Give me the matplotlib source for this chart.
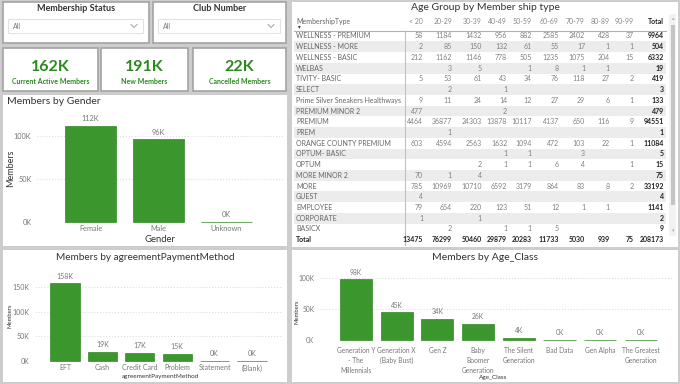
import matplotlib
matplotlib.use('Agg')
import matplotlib.pyplot as plt
from matplotlib.patches import Rectangle
from matplotlib.ticker import FuncFormatter

plt.rcParams['font.family'] = ['Lato', 'DejaVu Sans']

# ── Data ──────────────────────────────────────────────────────────────
kpi_values = ['162K', '191K', '22K']
kpi_labels = ['Current Active Members', 'New Members', 'Cancelled Members']

gender_cats = ['Female', 'Male', 'Unknown']
gender_vals = [112000, 96000, 400]

pay_cats = ['EFT', 'Cash', 'Credit Card', 'Problem', 'Statement', '(Blank)']
pay_vals = [158000, 19000, 17000, 15000, 150, 100]

age_cats = ['Generation Y\n- The\nMillennials', 'Generation X\n(Baby Bust)', 'Gen Z',
            'Baby\nBoomer\nGeneration', 'The Silent\nGeneration', 'Bad Data',
            'Gen Alpha', 'The Greatest\nGeneration']
age_vals = [98000, 45000, 34000, 26000, 4000, 200, 150, 150]

age_groups = ['< 20', '20-29', '30-39', '40-49', '50-59', '60-69', '70-79', '80-89', '90-99']
mtypes = ['WELLNESS - PREMIUM', 'WELLNESS - MORE', 'WELLNESS - BASIC', 'WELBAS', 'TIVITY- BASIC',
          'SELECT', 'Prime Silver Sneakers Healthways', 'PREMIUM MINOR 2', 'PREMIUM', 'PREM',
          'ORANGE COUNTY PREMIUM', 'OPTUM- BASIC', 'OPTUM', 'MORE MINOR 2', 'MORE', 'GUEST',
          'EMPLOYEE', 'CORPORATE', 'BASICX']
N = None
mtype_counts = [
    [58, 1184, 1432, 956, 882, 2585, 2402, 428, 37],
    [2, 85, 150, 132, 61, 55, 17, 1, 1],
    [212, 1162, 1146, 778, 505, 1235, 1075, 204, 15],
    [N, 3, 5, N, 1, 8, 1, 1, N],
    [5, 53, 61, 43, 34, 76, 118, 27, 2],
    [N, 2, N, 1, N, N, N, N, N],
    [9, 11, 24, 14, 12, 27, 29, 6, 1],
    [477, N, N, 2, N, N, N, N, N],
    [4464, 36877, 24303, 13878, 10117, 4137, 650, 116, 9],
    [N, 1, N, N, N, N, N, N, N],
    [603, 4594, 2563, 1632, 1094, 472, 103, 22, 1],
    [N, N, N, 1, 1, N, 3, N, N],
    [N, N, 2, 1, 1, 6, 4, N, 1],
    [70, 1, 4, N, N, N, N, N, N],
    [785, 10969, 10710, 6592, 3179, 864, 83, 8, 2],
    [4, N, N, N, N, N, N, N, N],
    [79, 654, 220, 123, 51, 12, 1, 1, N],
    [1, N, 1, N, N, N, N, N, N],
    [N, 2, N, 1, 1, 5, N, N, N],
]
mtype_totals = [9964, 504, 6332, 19, 419, 3, 133, 479, 94551, 1, 11084, 5, 15, 75, 33192, 4, 1141, 2, 9]
group_totals = [13475, 76299, 50460, 29879, 20283, 11733, 5030, 939, 75]
grand_total = 208173

# ── Style ─────────────────────────────────────────────────────────────
W, H = 680, 384
BG = '#cdcdcd'
GREEN = '#3b962d'
KPI_GREEN = '#2a8a1e'
GRAY_TXT = '#777777'
DARK_TXT = '#333333'

fig = plt.figure(figsize=(W / 100, H / 100), dpi=100, facecolor=BG)
bg = fig.add_axes([0, 0, 1, 1])
bg.set_xlim(0, W); bg.set_ylim(H, 0); bg.axis('off')


def panel(x0, y0, x1, y1, border=None):
    bg.add_patch(Rectangle((x0, y0), x1 - x0, y1 - y0, facecolor='white',
                           edgecolor=border if border else 'none', lw=1.2))


def px_axes(x0, y0, x1, y1):
    return fig.add_axes([x0 / W, 1 - y1 / H, (x1 - x0) / W, (y1 - y0) / H], facecolor='none')


kfmt = FuncFormatter(lambda v, p: f'{v / 1000:.0f}K')

# ── Slicers ───────────────────────────────────────────────────────────
for (x0, x1, title) in [(3, 149, 'Membership Status'), (153, 286, 'Club Number')]:
    panel(x0, 2, x1, 43, border='#a3a3a3')
    bg.text((x0 + x1) / 2, 8.5, title, ha='center', va='center', fontsize=6.5,
            fontweight='bold', color=DARK_TXT)
    bg.add_patch(Rectangle((x0 + 5, 19), x1 - x0 - 11, 14, facecolor='white',
                           edgecolor='#e2e2e2', lw=0.8))
    bg.text(x0 + 10, 26.5, 'All', ha='left', va='center', fontsize=5, color='#777777')
    cx = x1 - 15
    bg.plot([cx - 3, cx, cx + 3], [24.5, 27.5, 24.5], color='#a0a0a0', lw=0.7)

# ── KPI cards ─────────────────────────────────────────────────────────
for (x0, x1), val, lab in zip([(3, 98), (101, 188), (193, 286)], kpi_values, kpi_labels):
    panel(x0, 48, x1, 91, border='#a3a3a3')
    bg.text((x0 + x1) / 2, 67, val, ha='center', va='center', fontsize=11.5,
            fontweight='bold', color=KPI_GREEN)
    bg.text((x0 + x1) / 2, 82, lab, ha='center', va='center', fontsize=5,
            fontweight='bold', color=KPI_GREEN)

# ── Chart panels ──────────────────────────────────────────────────────
panel(3, 95, 287, 246)
panel(3, 250, 287, 382)
panel(292, 250, 678, 382)
panel(292, 2, 678, 247)


def bar_chart(ax, cats, vals, x_first, step, x0, x1, ymax, yticks, width, tick_fs, label_fs,
              xpad=3, lsp=1.25):
    idx = range(len(cats))
    bars = ax.bar(idx, vals, width=width, color=GREEN, edgecolor='#2f8a24', lw=0.5, zorder=3)
    for b in bars:
        b.set_clip_on(False)
    ax.set_xlim(-(x_first - x0) / step, -(x_first - x0) / step + (x1 - x0) / step)
    ax.set_ylim(0, ymax)
    ax.set_yticks(yticks)
    ax.yaxis.set_major_formatter(kfmt)
    ax.set_xticks(list(idx))
    ax.set_xticklabels(cats, fontsize=tick_fs, color=GRAY_TXT, linespacing=lsp)
    ax.tick_params(axis='y', labelsize=tick_fs, labelcolor=GRAY_TXT, length=0, pad=4)
    ax.tick_params(axis='x', length=0, pad=xpad)
    ax.grid(axis='y', color='#dddddd', ls=':', lw=0.8, zorder=0)
    for s in ax.spines.values():
        s.set_visible(False)
    for i, v in zip(idx, vals):
        ax.annotate(f'{v / 1000:.0f}K', (i, v), xytext=(0, 2.5), textcoords='offset points',
                    ha='center', va='bottom', fontsize=label_fs, color=GRAY_TXT)


# Members by Gender
bg.text(7, 102, 'Members by Gender', ha='left', va='center', fontsize=7.5, color=DARK_TXT)
ax1 = px_axes(37, 114.5, 283, 222)
bar_chart(ax1, gender_cats, gender_vals, 90.5, 68, 37, 283, 125000, [0, 50000, 100000],
          0.75, 5.3, 5.3, xpad=2)
bg.text(11, 168, 'Members', rotation=90, ha='center', va='center', fontsize=6.5, color=DARK_TXT)
bg.text(160, 239.5, 'Gender', ha='center', va='center', fontsize=6.8, color=DARK_TXT)

# Members by agreementPaymentMethod
bg.text(145, 257, 'Members by agreementPaymentMethod', ha='center', va='center',
        fontsize=7.2, color=DARK_TXT)
ax2 = px_axes(35, 274.7, 283, 361)
bar_chart(ax2, pay_cats, pay_vals, 65, 37.4, 35, 283, 175000, [0, 50000, 100000, 150000],
          0.78, 5.0, 5.0, xpad=2.5)
bg.text(10, 316, 'Members', rotation=90, ha='center', va='center', fontsize=4.2, color=DARK_TXT)
bg.text(160, 376.5, 'agreementPaymentMethod', ha='center', va='center', fontsize=4.6,
        color=DARK_TXT)

# Members by Age_Class
bg.text(485, 257, 'Members by Age_Class', ha='center', va='center', fontsize=7.5, color=DARK_TXT)
ax3 = px_axes(320, 268.7, 672, 340)
bar_chart(ax3, age_cats, age_vals, 356, 40.7, 320, 672, 115000, [0, 50000, 100000],
          0.79, 4.8, 4.8, xpad=5, lsp=1.5)
bg.text(297, 312, 'Members', rotation=90, ha='center', va='center', fontsize=4.2, color=DARK_TXT)
bg.text(493, 377, 'Age_Class', ha='center', va='center', fontsize=4.6, color=DARK_TXT)

# ── Matrix table ──────────────────────────────────────────────────────
bg.text(485, 7.5, 'Age Group by Member ship type', ha='center', va='center',
        fontsize=7.5, color=DARK_TXT)
col_right = [423, 452, 482, 507, 532, 559, 585, 610, 634]
total_right = 664
row0, row_h = 36, 10.72
TFS = 5

bg.text(296, 21.5, 'MembershipType', ha='left', va='center', fontsize=TFS, color='#666666')
bg.text(297.5, 27, '\u25be', ha='left', va='center', fontsize=4, color='#333333',
        family='DejaVu Sans')
for cr, g in zip(col_right, age_groups):
    bg.text(cr, 21.5, g, ha='right', va='center', fontsize=TFS, color='#888888')
bg.text(total_right, 21.5, 'Total', ha='right', va='center', fontsize=TFS,
        fontweight='bold', color='#222222')
bg.plot([294, 666], [30.5, 30.5], color='#9db4d4', lw=0.8)

for i, (name, counts, tot) in enumerate(zip(mtypes, mtype_counts, mtype_totals)):
    y = row0 + i * row_h
    if i % 2 == 1:
        bg.add_patch(Rectangle((294, y - row_h / 2), 372, row_h, facecolor='#ececec',
                               edgecolor='none'))
    bg.text(296, y, name, ha='left', va='center', fontsize=TFS, color='#666666')
    for cr, c in zip(col_right, counts):
        if c is not None:
            bg.text(cr, y, str(c), ha='right', va='center', fontsize=TFS, color='#808080')
    bg.text(total_right, y, str(tot), ha='right', va='center', fontsize=TFS,
            fontweight='bold', color='#222222')

y_tot = row0 + len(mtypes) * row_h - 0.5
bg.text(296, y_tot, 'Total', ha='left', va='center', fontsize=TFS, fontweight='bold',
        color='#222222')
for cr, t in zip(col_right, group_totals):
    bg.text(cr, y_tot, str(t), ha='right', va='center', fontsize=TFS, fontweight='bold',
            color='#222222')
bg.text(total_right, y_tot, str(grand_total), ha='right', va='center', fontsize=TFS,
        fontweight='bold', color='#222222')
bg.plot([405, 405], [31, 245], color='#a9c4e6', lw=0.8)

# scrollbar
bg.add_patch(Rectangle((669, 14), 7, 222, facecolor='#f2f2f2', edgecolor='none'))
bg.add_patch(Rectangle((670.5, 25), 4.5, 180, facecolor='#c4c4c4', edgecolor='none'))
bg.text(672.8, 19, '\u25b4', ha='center', va='center', fontsize=3.5, color='#aaaaaa',
        family='DejaVu Sans')
bg.text(672.8, 231, '\u25be', ha='center', va='center', fontsize=3.5, color='#aaaaaa',
        family='DejaVu Sans')

fig.savefig('out.png', dpi=100, facecolor=BG)
